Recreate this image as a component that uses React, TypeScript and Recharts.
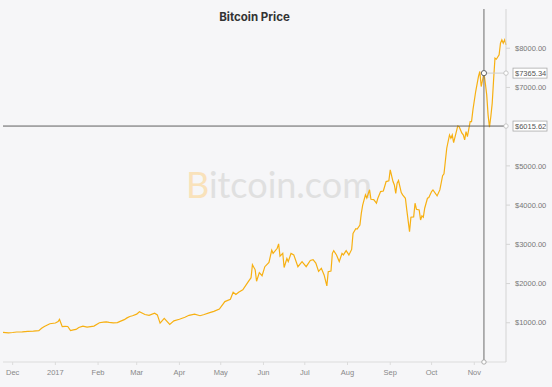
import { LineChart, Line, XAxis, YAxis, ReferenceLine, ReferenceDot } from 'recharts'

const dates = [
  '2016-11-24', '2016-11-28', '2016-12-01', '2016-12-04', '2016-12-08', '2016-12-12', '2016-12-16', '2016-12-20',
  '2016-12-22', '2016-12-24', '2016-12-28', '2017-01-01', '2017-01-03', '2017-01-04', '2017-01-06', '2017-01-08',
  '2017-01-10', '2017-01-12', '2017-01-14', '2017-01-16', '2017-01-18', '2017-01-21', '2017-01-24', '2017-01-29',
  '2017-02-02', '2017-02-05', '2017-02-07', '2017-02-09', '2017-02-12', '2017-02-15', '2017-02-17', '2017-02-20',
  '2017-02-22', '2017-02-24', '2017-02-26', '2017-03-01', '2017-03-03', '2017-03-07', '2017-03-10', '2017-03-14',
  '2017-03-16', '2017-03-18', '2017-03-21', '2017-03-25', '2017-03-28', '2017-04-01', '2017-04-05', '2017-04-08',
  '2017-04-12', '2017-04-16', '2017-04-19', '2017-04-23', '2017-04-26', '2017-04-30', '2017-05-04', '2017-05-08',
  '2017-05-10', '2017-05-12', '2017-05-14', '2017-05-17', '2017-05-21', '2017-05-23', '2017-05-24', '2017-05-26',
  '2017-05-27', '2017-05-29', '2017-05-31', '2017-06-02', '2017-06-05', '2017-06-07', '2017-06-08', '2017-06-11',
  '2017-06-12', '2017-06-13', '2017-06-15', '2017-06-16', '2017-06-18', '2017-06-19', '2017-06-21', '2017-06-23',
  '2017-06-26', '2017-06-29', '2017-07-02', '2017-07-05', '2017-07-07', '2017-07-09', '2017-07-11', '2017-07-13',
  '2017-07-15', '2017-07-17', '2017-07-18', '2017-07-20', '2017-07-21', '2017-07-22', '2017-07-24', '2017-07-26',
  '2017-07-28', '2017-07-29', '2017-07-31', '2017-08-02', '2017-08-04', '2017-08-05', '2017-08-07', '2017-08-08',
  '2017-08-10', '2017-08-11', '2017-08-12', '2017-08-14', '2017-08-15', '2017-08-17', '2017-08-18', '2017-08-20',
  '2017-08-22', '2017-08-23', '2017-08-25', '2017-08-27', '2017-08-29', '2017-08-31', '2017-09-01', '2017-09-03',
  '2017-09-04', '2017-09-05', '2017-09-06', '2017-09-07', '2017-09-09', '2017-09-10', '2017-09-12', '2017-09-13',
  '2017-09-15', '2017-09-16', '2017-09-18', '2017-09-19', '2017-09-20', '2017-09-22', '2017-09-23', '2017-09-24',
  '2017-09-25', '2017-09-26', '2017-09-28', '2017-09-29', '2017-10-01', '2017-10-02', '2017-10-05', '2017-10-07',
  '2017-10-09', '2017-10-10', '2017-10-12', '2017-10-14', '2017-10-15', '2017-10-16', '2017-10-17', '2017-10-20',
  '2017-10-21', '2017-10-23', '2017-10-24', '2017-10-25', '2017-10-26', '2017-10-27', '2017-10-29', '2017-10-30',
  '2017-10-31', '2017-11-02', '2017-11-04', '2017-11-05', '2017-11-06', '2017-11-07', '2017-11-08', '2017-11-09',
  '2017-11-10', '2017-11-11', '2017-11-12', '2017-11-13', '2017-11-14', '2017-11-15', '2017-11-16', '2017-11-17',
  '2017-11-19', '2017-11-20', '2017-11-21', '2017-11-22', '2017-11-23', '2017-11-24'
]

const prices = [
  757, 745, 752, 765, 770, 780, 785, 800,
  860, 905, 975, 995, 1030, 1085, 900, 910,
  905, 800, 820, 830, 880, 915, 890, 915,
  1000, 1015, 1025, 1010, 1000, 1005, 1035, 1080,
  1125, 1160, 1180, 1220, 1280, 1210, 1190, 1245,
  1200, 990, 1110, 960, 1050, 1090, 1140, 1190,
  1220, 1180, 1210, 1260, 1290, 1350, 1540, 1600,
  1780, 1720, 1780, 1840, 2050, 2150, 2480, 2350,
  2060, 2280, 2200, 2430, 2540, 2850, 2770, 2900,
  3010, 2700, 2770, 2410, 2640, 2560, 2770, 2730,
  2430, 2560, 2430, 2590, 2610, 2520, 2310, 2390,
  2220, 1940, 2300, 2320, 2770, 2840, 2730, 2560,
  2770, 2730, 2840, 2730, 2870, 3280, 3400, 3390,
  3490, 3790, 4000, 4260, 4180, 4390, 4150, 4140,
  4050, 4175, 4345, 4360, 4600, 4620, 4900, 4600,
  4515, 4300, 4560, 4626, 4320, 4260, 4175, 3880,
  3325, 3690, 3700, 4048, 3895, 3878, 3622, 3724,
  3690, 3920, 4175, 4192, 4345, 4388, 4235, 4388,
  4750, 4800, 5450, 5790, 5706, 5790, 5594, 6020,
  6000, 5833, 5790, 5663, 5875, 5748, 6130, 6130,
  6429, 6896, 7278, 7406, 7023, 7194, 7365.34, 7108,
  6811, 6301, 5987, 6258, 6599, 7194, 7746, 7720,
  7831, 8129, 8214, 8129, 8214, 8087
]

const monthTicks = [
  '2016-12-01', '2017-01-01', '2017-02-01', '2017-03-01', '2017-04-01', '2017-05-01',
  '2017-06-01', '2017-07-01', '2017-08-01', '2017-09-01', '2017-10-01', '2017-11-01'
]
const monthLabels = ['Dec', '2017', 'Feb', 'Mar', 'Apr', 'May', 'Jun', 'Jul', 'Aug', 'Sep', 'Oct', 'Nov']

// $6000 sits under the cursor box, so it is not shown
const priceTicks = [1000, 2000, 3000, 4000, 5000, 7000, 8000]

const hoverDate = '2017-11-08'
const hoverPrice = 7365.34
const cursorPrice = 6015.62

const toTime = (d: string) => new Date(d + 'T00:00:00Z').getTime()

const chartData = dates.map((d, i) => ({ t: toTime(d), price: prices[i] }))
const tickTimes = monthTicks.map(toTime)
const startT = toTime('2016-11-24')
const endT = toTime('2017-11-24')
const hoverT = toTime(hoverDate)

const FONT = '"Liberation Sans", Arial, sans-serif'
const LINE = '#f7b012'

function formatMonth(v: number) {
  const i = tickTimes.indexOf(v)
  return i >= 0 ? monthLabels[i] : ''
}

function BoxLabel({ cx, cy, value }: any) {
  const bx = cx + 7
  return (
    <g>
      <circle cx={cx} cy={cy} r={2.2} fill="#fff" stroke="#bbb" strokeWidth={0.8} />
      <rect x={bx} y={cy - 5} width={34} height={10} fill="#fff" stroke="#aaa" strokeWidth={0.8} />
      <text x={bx + 2} y={cy + 2.7} fontSize={7.5} fill="#555" fontFamily={FONT}>
        {`$${value.toFixed(2)}`}
      </text>
    </g>
  )
}

export default function App() {
  return (
    <div style={{ position: 'absolute', left: 0, top: 0, width: 552, height: 387, background: '#f6f6f8' }}>
      <svg width={552} height={387} style={{ position: 'absolute', left: 0, top: 0 }}>
        <text x={254.5} y={21} textAnchor="middle" fontSize={11.5} fontWeight={700} fill="#333" fontFamily="Inter, sans-serif">
          Bitcoin Price
        </text>
        <text x={186} y={198} fontSize={36} fontFamily="Lato, sans-serif">
          <tspan fill="#f9e2bb">B</tspan>
          <tspan fill="#e0e0e0">itcoin.com</tspan>
        </text>
      </svg>
      <div style={{ position: 'absolute', left: 0, top: 0 }}>
        <LineChart width={552} height={387} data={chartData} margin={{ top: 9, right: 0, bottom: 0, left: 3 }}>
          <XAxis
            dataKey="t"
            type="number"
            scale="time"
            domain={[startT, endT]}
            ticks={tickTimes}
            tickFormatter={formatMonth}
            height={25}
            stroke="#dcdcdc"
            tickSize={3}
            tickMargin={5}
            tick={{ fontSize: 7.5, fill: '#888', fontFamily: FONT }}
          />
          <YAxis
            orientation="right"
            domain={[0, 9000]}
            ticks={priceTicks}
            tickFormatter={(v: number) => `$${v}.00`}
            width={46}
            stroke="#d4d4d4"
            tickSize={4}
            tickMargin={5}
            tick={{ fontSize: 7.5, fill: '#777', fontFamily: FONT, textAnchor: 'start' }}
          />
          <Line
            type="linear"
            dataKey="price"
            stroke={LINE}
            strokeWidth={1.2}
            dot={false}
            isAnimationActive={false}
          />
          <ReferenceLine x={hoverT} stroke="#6b6b6b" strokeWidth={1} />
          <ReferenceLine y={cursorPrice} stroke="#5f5f5f" strokeWidth={1} />
          <ReferenceLine
            segment={[{ x: hoverT, y: hoverPrice }, { x: endT, y: hoverPrice }]}
            stroke="#cfcfcf"
            strokeWidth={1}
          />
          <ReferenceDot x={hoverT} y={0} r={2.2} fill="#fff" stroke="#999" strokeWidth={0.8} />
          <ReferenceDot x={hoverT} y={hoverPrice} r={2.6} fill="#fff" stroke="#666" strokeWidth={1} />
          <ReferenceDot x={endT} y={hoverPrice} shape={(p: any) => <BoxLabel {...p} value={hoverPrice} />} />
          <ReferenceDot x={endT} y={cursorPrice} shape={(p: any) => <BoxLabel {...p} value={cursorPrice} />} />
        </LineChart>
      </div>
    </div>
  )
}
